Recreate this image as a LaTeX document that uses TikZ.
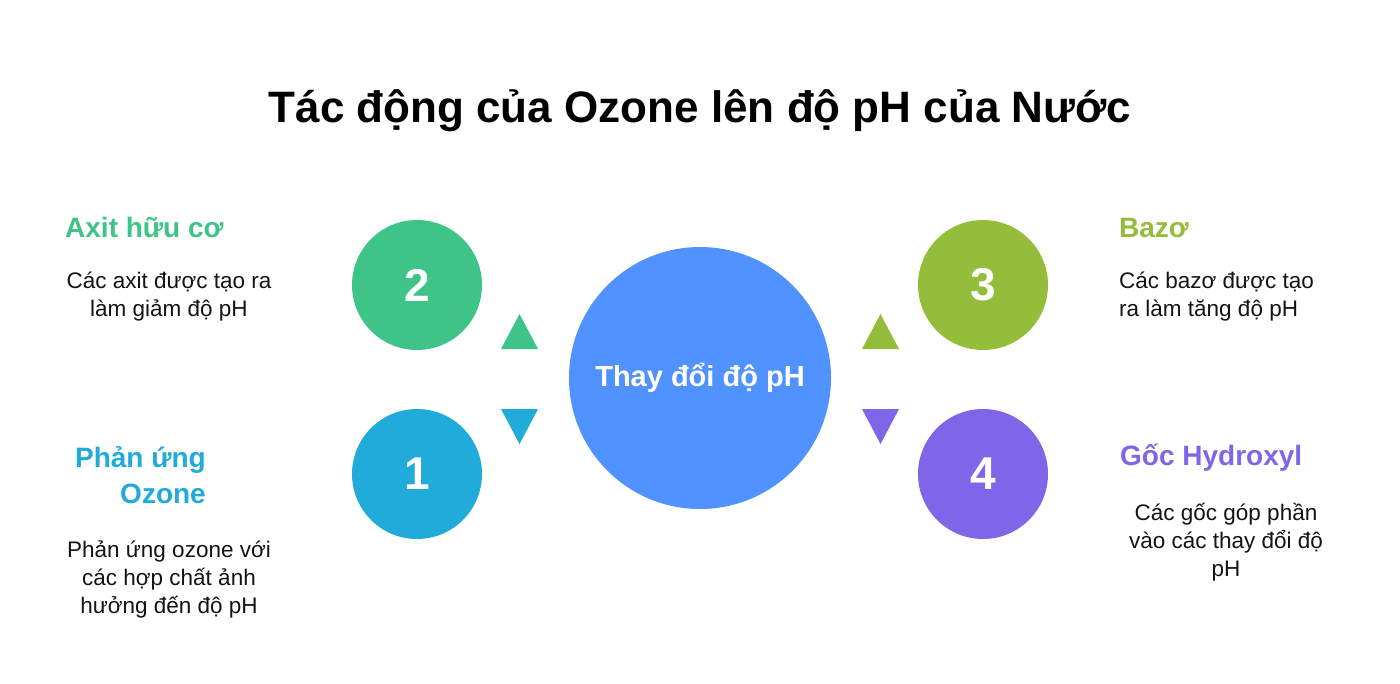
\documentclass[tikz,border=0pt]{standalone}
\usepackage{fontspec}
\setmainfont{Liberation Sans}
\definecolor{cgreen}{RGB}{62,196,135}
\definecolor{cblue}{RGB}{32,171,219}
\definecolor{clime}{RGB}{147,189,58}
\definecolor{cpurple}{RGB}{127,102,232}
\definecolor{ccenter}{RGB}{80,146,255}
\definecolor{ctext}{RGB}{20,20,20}
\tikzset{
  numcircle/.style={circle, minimum size=130pt, inner sep=0pt, text=white,
    font=\fontsize{46}{50}\selectfont\bfseries},
  hubcircle/.style={circle, minimum size=262pt, inner sep=0pt, fill=ccenter, text=white,
    font=\fontsize{29}{34}\selectfont\bfseries},
  hdr/.style={inner sep=0pt, font=\fontsize{28}{36}\selectfont\bfseries},
  body/.style={inner sep=0pt, text=ctext, font=\fontsize{22.5}{28}\selectfont},
  titletext/.style={inner sep=0pt, text=black, font=\fontsize{44}{54}\selectfont\bfseries}
}
\begin{document}
\begin{tikzpicture}[x=1pt,y=-1pt]
\useasboundingbox[fill=white] (0,0) rectangle (1400,683);

\node[titletext, anchor=base] (title) at (700,122) {Tác động của Ozone lên độ pH của Nước};

% centre
\node[hubcircle] (hub) at (700,378) {Thay đổi độ pH};

% numbered circles
\node[numcircle, fill=cgreen] (c2) at (417,285) {2};
\node[numcircle, fill=cblue] (c1) at (417,474) {1};
\node[numcircle, fill=clime] (c3) at (983,285) {3};
\node[numcircle, fill=cpurple] (c4) at (983,474) {4};

% triangles
\fill[cgreen] (501,349) -- (519.5,314) -- (538,349) -- cycle;
\fill[cblue] (501,409) -- (519.5,444) -- (538,409) -- cycle;
\fill[clime] (862,349) -- (880.5,314) -- (899,349) -- cycle;
\fill[cpurple] (862,409) -- (880.5,444) -- (899,409) -- cycle;

% left top (base anchor of a multi-line node = baseline of its last line)
\node[hdr, text=cgreen, anchor=base west] (h2) at (65,237) {Axit hữu cơ};
\node[body, anchor=base, align=center] (b2) at (169,316) {Các axit được tạo ra\\làm giảm độ pH};

% left bottom
\node[hdr, text=cblue, anchor=base east, align=right] (h1) at (206,503) {Phản ứng\\Ozone};
\node[body, anchor=base, align=center] (b1) at (169,613) {Phản ứng ozone với\\các hợp chất ảnh\\hưởng đến độ pH};

% right top
\node[hdr, text=clime, anchor=base west] (h3) at (1119,237) {Bazơ};
\node[body, anchor=base west, align=left] (b3) at (1119,316) {Các bazơ được tạo\\ra làm tăng độ pH};

% right bottom
\node[hdr, text=cpurple, anchor=base west] (h4) at (1120,465) {Gốc Hydroxyl};
\node[body, anchor=base, align=center] (b4) at (1226,576) {Các gốc góp phần\\vào các thay đổi độ\\pH};
\end{tikzpicture}
\end{document}
